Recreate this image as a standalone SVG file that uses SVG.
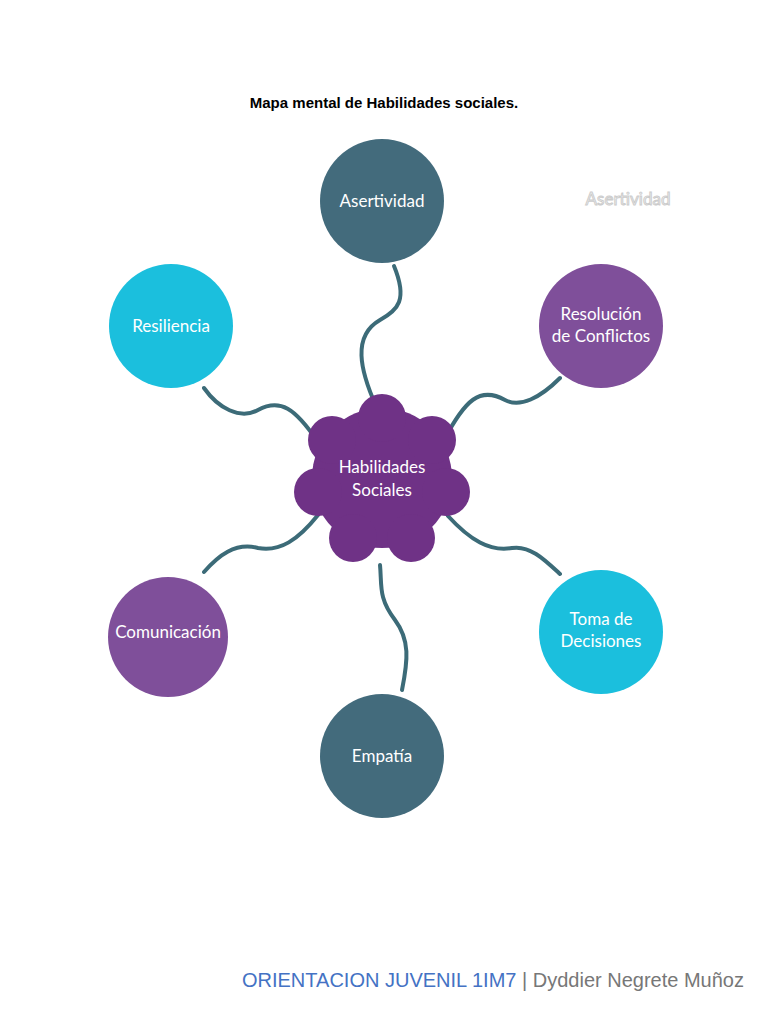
<svg xmlns="http://www.w3.org/2000/svg" width="768" height="1024" viewBox="0 0 768 1024">
<style>
.n{font-family:"Lato","Liberation Sans",sans-serif;font-size:17px;fill:#fff;text-anchor:middle}
.c{fill:none;stroke:#3c6b78;stroke-width:4;stroke-linecap:round}
.teal{fill:#436b7c}.cyan{fill:#1bbfdd}.purp{fill:#7f4f9a}
</style>
<rect width="768" height="1024" fill="#fff"/>
<text x="384" y="108" font-family="Liberation Sans,sans-serif" font-size="15" font-weight="bold" text-anchor="middle">Mapa mental de Habilidades sociales.</text>
<text x="628" y="205" font-family="Lato,Liberation Sans,sans-serif" font-size="17" fill="#fff" stroke="#ccc" stroke-width="1" text-anchor="middle">Asertividad</text>
<g id="connectors">
<path class="c" d="M394 266 C408 300 398 310 380 320 C352 336 360 370 376 406"/>
<path class="c" d="M560 378 C540 398 520 408 505 400 C480 386 465 400 444 440"/>
<path class="c" d="M204 388 C218 408 240 420 258 410 C280 398 295 408 318 442"/>
<path class="c" d="M204 572 C218 556 235 542 258 548 C280 552 298 540 318 515"/>
<path class="c" d="M560 574 C545 560 530 545 512 548 C490 552 470 540 448 516"/>
<path class="c" d="M402 690 C408 660 410 640 395 620 C378 598 382 585 380 565"/>
</g>
<g id="center" fill="#6f3286">
<circle cx="382" cy="478" r="70"/>
<circle cx="382" cy="418" r="24"/>
<circle cx="432" cy="440" r="24"/>
<circle cx="446" cy="492" r="24"/>
<circle cx="411" cy="538" r="24"/>
<circle cx="353" cy="538" r="24"/>
<circle cx="318" cy="492" r="24"/>
<circle cx="332" cy="440" r="24"/>
<text class="n" x="382" y="473">Habilidades</text>
<text class="n" x="382" y="496">Sociales</text>
</g>
<g id="asertividad"><circle class="teal" cx="382" cy="201" r="62"/><text class="n" x="382" y="207">Asertividad</text></g>
<g id="resiliencia"><circle class="cyan" cx="171" cy="326" r="62"/><text class="n" x="171" y="332">Resiliencia</text></g>
<g id="resolucion"><circle class="purp" cx="601" cy="326" r="62"/><text class="n" x="601" y="320">Resolución</text><text class="n" x="601" y="342">de Conflictos</text></g>
<g id="comunicacion"><circle class="purp" cx="168" cy="637" r="60"/><text class="n" x="168" y="638">Comunicación</text></g>
<g id="toma"><circle class="cyan" cx="601" cy="632" r="62"/><text class="n" x="601" y="625">Toma de</text><text class="n" x="601" y="647">Decisiones</text></g>
<g id="empatia"><circle class="teal" cx="382" cy="756" r="62"/><text class="n" x="382" y="762">Empatía</text></g>
<text x="744" y="987" font-family="Liberation Sans,sans-serif" font-size="20" text-anchor="end"><tspan fill="#4472c4">ORIENTACION JUVENIL 1IM7</tspan><tspan fill="#777"> | Dyddier Negrete Muñoz</tspan></text>
</svg>
